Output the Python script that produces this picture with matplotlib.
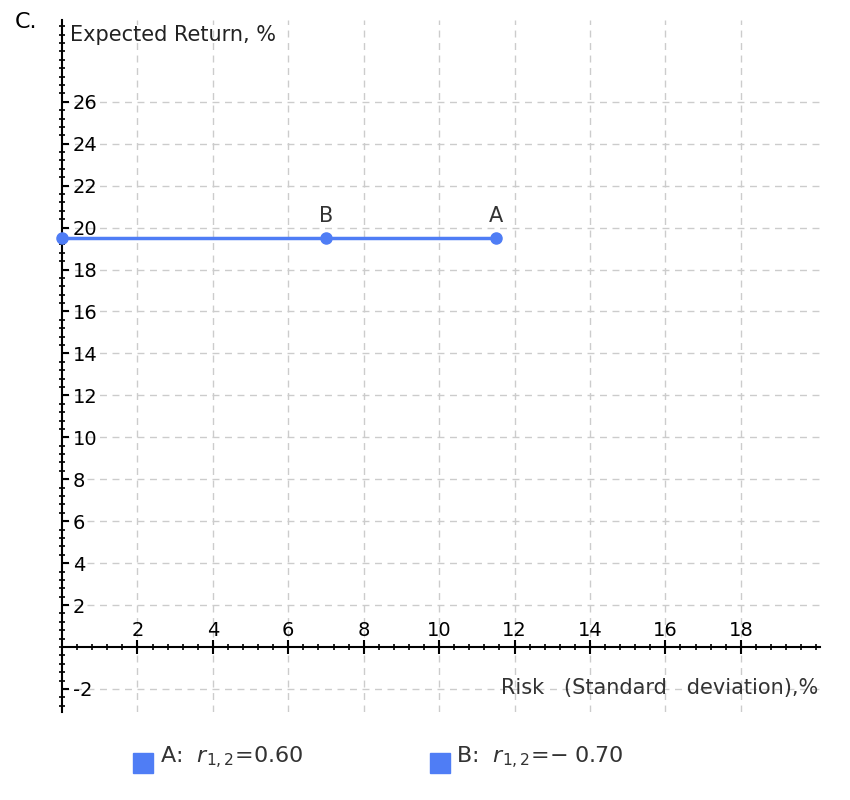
import matplotlib
matplotlib.use("Agg")
import matplotlib.pyplot as plt
import numpy as np
from matplotlib.ticker import MultipleLocator

plt.rcParams['axes.unicode_minus'] = False

line_x = [0, 7, 11.5]
line_y = [19.5, 19.5, 19.5]
pt_labels = ["B", "A"]
pt_x = [7, 11.5]
pt_y = [19.5, 19.5]
xticks = [2, 4, 6, 8, 10, 12, 14, 16, 18]
yticks = [-2, 2, 4, 6, 8, 10, 12, 14, 16, 18, 20, 22, 24, 26]

fig = plt.figure(figsize=(8.5, 8.0), dpi=100)
ax = fig.add_axes([62/850, 1-712/800, (820-62)/850, (712-20)/800])
ax.set_xlim(0, 20.1)
ax.set_ylim(-3.1, 29.9)
blue = "#4f7df5"
ax.plot(line_x, line_y, color=blue, lw=2.5, zorder=3, clip_on=False)
ax.plot(pt_x, pt_y, 'o', color=blue, ms=8, zorder=4)
ax.plot([line_x[0]], [line_y[0]], 'o', color=blue, ms=8, zorder=4, clip_on=False)
for l, x, y in zip(pt_labels, pt_x, pt_y):
    ax.text(x, y + 0.6, l, ha='center', va='bottom', fontsize=15, color='#333333')

for s in ['top', 'right']:
    ax.spines[s].set_visible(False)
ax.spines['left'].set_position(('data', 0))
ax.spines['bottom'].set_position(('data', 0))
for s in ['left', 'bottom']:
    ax.spines[s].set_linewidth(1.5)
ax.set_xticks(xticks)
ax.set_yticks(yticks)
ax.xaxis.set_minor_locator(MultipleLocator(0.4))
ax.yaxis.set_minor_locator(MultipleLocator(0.4))
ax.tick_params(axis='x', which='major', direction='inout', length=10, width=1.5, labelsize=14, pad=-24)
ax.tick_params(axis='x', which='minor', direction='inout', length=5, width=1.2)
ax.tick_params(axis='y', which='major', direction='in', length=5, width=1.5, labelsize=14, pad=-8)
ax.tick_params(axis='y', which='minor', direction='inout', length=4, width=1.2)
for t in ax.get_yticklabels():
    t.set_ha('left')
ax.grid(True, which='major', ls=(0, (5, 4)), color='#cccccc', lw=1)
ax.set_axisbelow(True)

fig.text(70/850, 1-35/800, "Expected Return, %", fontsize=15, va='center', color='#222222')
fig.text(818/850, 1-688/800, "Risk   (Standard   deviation),%", fontsize=15, ha='right', va='center', color='#333333')
fig.text(15/850, 1-22/800, "C.", fontsize=16, va='center')

fig.patches.append(plt.Rectangle((133/850, 1-773/800), 20/850, 20/800, transform=fig.transFigure, color=blue))
fig.text(160/850, 1-758/800, r"A:  $r_{1,2}$=0.60", fontsize=16, va='center', color='#333333')
fig.patches.append(plt.Rectangle((430/850, 1-773/800), 20/850, 20/800, transform=fig.transFigure, color=blue))
fig.text(456/850, 1-758/800, r"B:  $r_{1,2}$=− 0.70", fontsize=16, va='center', color='#333333')

fig.savefig("out.png", dpi=100)
